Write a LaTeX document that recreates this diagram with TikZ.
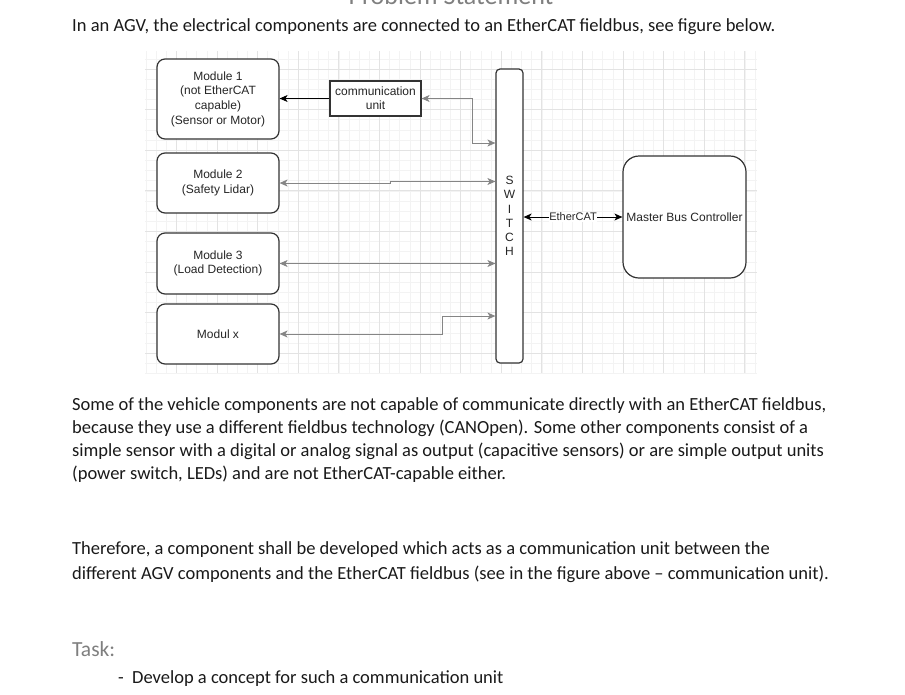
\documentclass[tikz,border=0pt]{standalone}
\usepackage{fontspec}
\setmainfont{Carlito}
\newfontfamily\arialf{Liberation Sans}
\usetikzlibrary{arrows.meta}
\definecolor{gridminor}{HTML}{F3F3F3}
\definecolor{gridmajor}{HTML}{E3E3E3}
\definecolor{conn}{HTML}{858585}
\definecolor{boxline}{HTML}{333333}
\definecolor{bodytxt}{HTML}{1A1A1A}
\definecolor{greytxt}{HTML}{7F7F7F}
\tikzset{
  modbox/.style={draw=boxline, line width=1.2pt, rounded corners=8pt, fill=white, align=center, inner sep=0pt, text=black!85, font=\arialf\fontsize{12}{14.6}\selectfont},
  connA/.style={draw=conn, line width=1pt, {Stealth[length=8pt,width=7pt,inset=2.2pt]}-{Stealth[length=8pt,width=7pt,inset=2.2pt]}},
  connB/.style={draw=black, line width=1pt},
  tipB/.style={-{Stealth[length=8pt,width=7pt,inset=2.2pt]}},
  bodyline/.style={anchor=base west, inner sep=0pt, text=bodytxt, font=\fontsize{18.5}{22}\selectfont},
}
\begin{document}
\begin{tikzpicture}[x=1pt,y=-1pt]
\useasboundingbox (0,0) rectangle (905,694);
\clip (0,0) rectangle (905,694);
\fill[white] (0,0) rectangle (905,694);
% title (cut off at the top edge, as in the reference)
\node[anchor=base, inner sep=0pt, text=greytxt, font=\fontsize{26}{30}\selectfont] (title) at (451,4) {Problem Statement};
% text
\node[bodyline] (intro) at (72,31) {In an AGV, the electrical components are connected to an EtherCAT fieldbus, see figure below.};
% grid
\foreach \i in {-3,...,57} \draw[gridminor, line width=0.6pt] ({176.4+\i*10.15},51) -- ({176.4+\i*10.15},373);
\foreach \j in {-1,...,30} \draw[gridminor, line width=0.6pt] (145,{69+\j*10.15}) -- (757,{69+\j*10.15});
\foreach \i in {0,...,14} \draw[gridmajor, line width=0.8pt] ({176.4+\i*40.6},51) -- ({176.4+\i*40.6},373);
\foreach \j in {0,...,7} \draw[gridmajor, line width=0.8pt] (145,{69+\j*40.6}) -- (757,{69+\j*40.6});
% nodes
\node[modbox, minimum width=122pt, minimum height=80pt] (m1) at (218,99) {Module 1\\(not EtherCAT\\capable)\\(Sensor or Motor)};
\node[modbox, minimum width=122pt, minimum height=60pt] (m2) at (218,183) {Module 2\\(Safety Lidar)};
\node[modbox, minimum width=122pt, minimum height=61pt] (m3) at (218,263.5) {Module 3\\(Load Detection)};
\node[modbox, minimum width=122pt, minimum height=60pt] (mx) at (218,334) {Modul x};
\node[modbox, rounded corners=0pt, minimum width=91pt, minimum height=35pt, font=\arialf\fontsize{12}{14}\selectfont] (comm) at (375.5,98.5) {communication\\unit};
\node[modbox, rounded corners=4pt, minimum width=27pt, minimum height=294pt, font=\arialf\fontsize{12}{14.3}\selectfont] (sw) at (509.5,216) {S\\W\\I\\T\\C\\H};
\node[modbox, rounded corners=16pt, minimum width=123pt, minimum height=122pt] (mbc) at (684.5,217) {Master Bus Controller};
% helper coordinates
\coordinate (y1) at (0,143);
\coordinate (y2) at (0,181.5);
\coordinate (y4) at (0,316);
% connectors
\draw[connB, tipB] (comm.west) -- (comm.west -| m1.east);
\draw[connA] (comm.east) -- ++(51,0) |- (sw.west |- y1);
\draw[connA] (m2.east) -- ++(111,0) |- (sw.west |- y2);
\draw[connA] (m3.east) -- (m3.east -| sw.west);
\draw[connA] (mx.east) -- ++(163,0) |- (sw.west |- y4);
\draw[connB, {Stealth[length=8pt,width=7pt,inset=2.2pt]}-{Stealth[length=8pt,width=7pt,inset=2.2pt]}] (sw.east |- mbc.west) -- node[fill=white, inner sep=0.5pt, text=black!85, font=\arialf\fontsize{11}{13}\selectfont] (lbl) {EtherCAT} (mbc.west);
% paragraphs
\node[bodyline] (p1a) at (72,410) {Some of the vehicle components are not capable of communicate directly with an EtherCAT fieldbus,};
\node[bodyline] (p1b) at (72,433) {because they use a different fieldbus technology (CANOpen). Some other components consist of a};
\node[bodyline] (p1c) at (72,456) {simple sensor with a digital or analog signal as output (capacitive sensors) or are simple output units};
\node[bodyline] (p1d) at (72,479) {(power switch, LEDs) and are not EtherCAT-capable either.};
\node[bodyline] (p2a) at (72,554) {Therefore, a component shall be developed which acts as a communication unit between the};
\node[bodyline] (p2b) at (72,579) {different AGV components and the EtherCAT fieldbus (see in the figure above -- communication unit).};
\node[bodyline, text=greytxt, font=\fontsize{21.5}{25}\selectfont] (task) at (72,656) {Task:};
\node[bodyline] (dash) at (118,683) {-};
\node[bodyline] (dev) at (132,683) {Develop a concept for such a communication unit};
\end{tikzpicture}
\end{document}
